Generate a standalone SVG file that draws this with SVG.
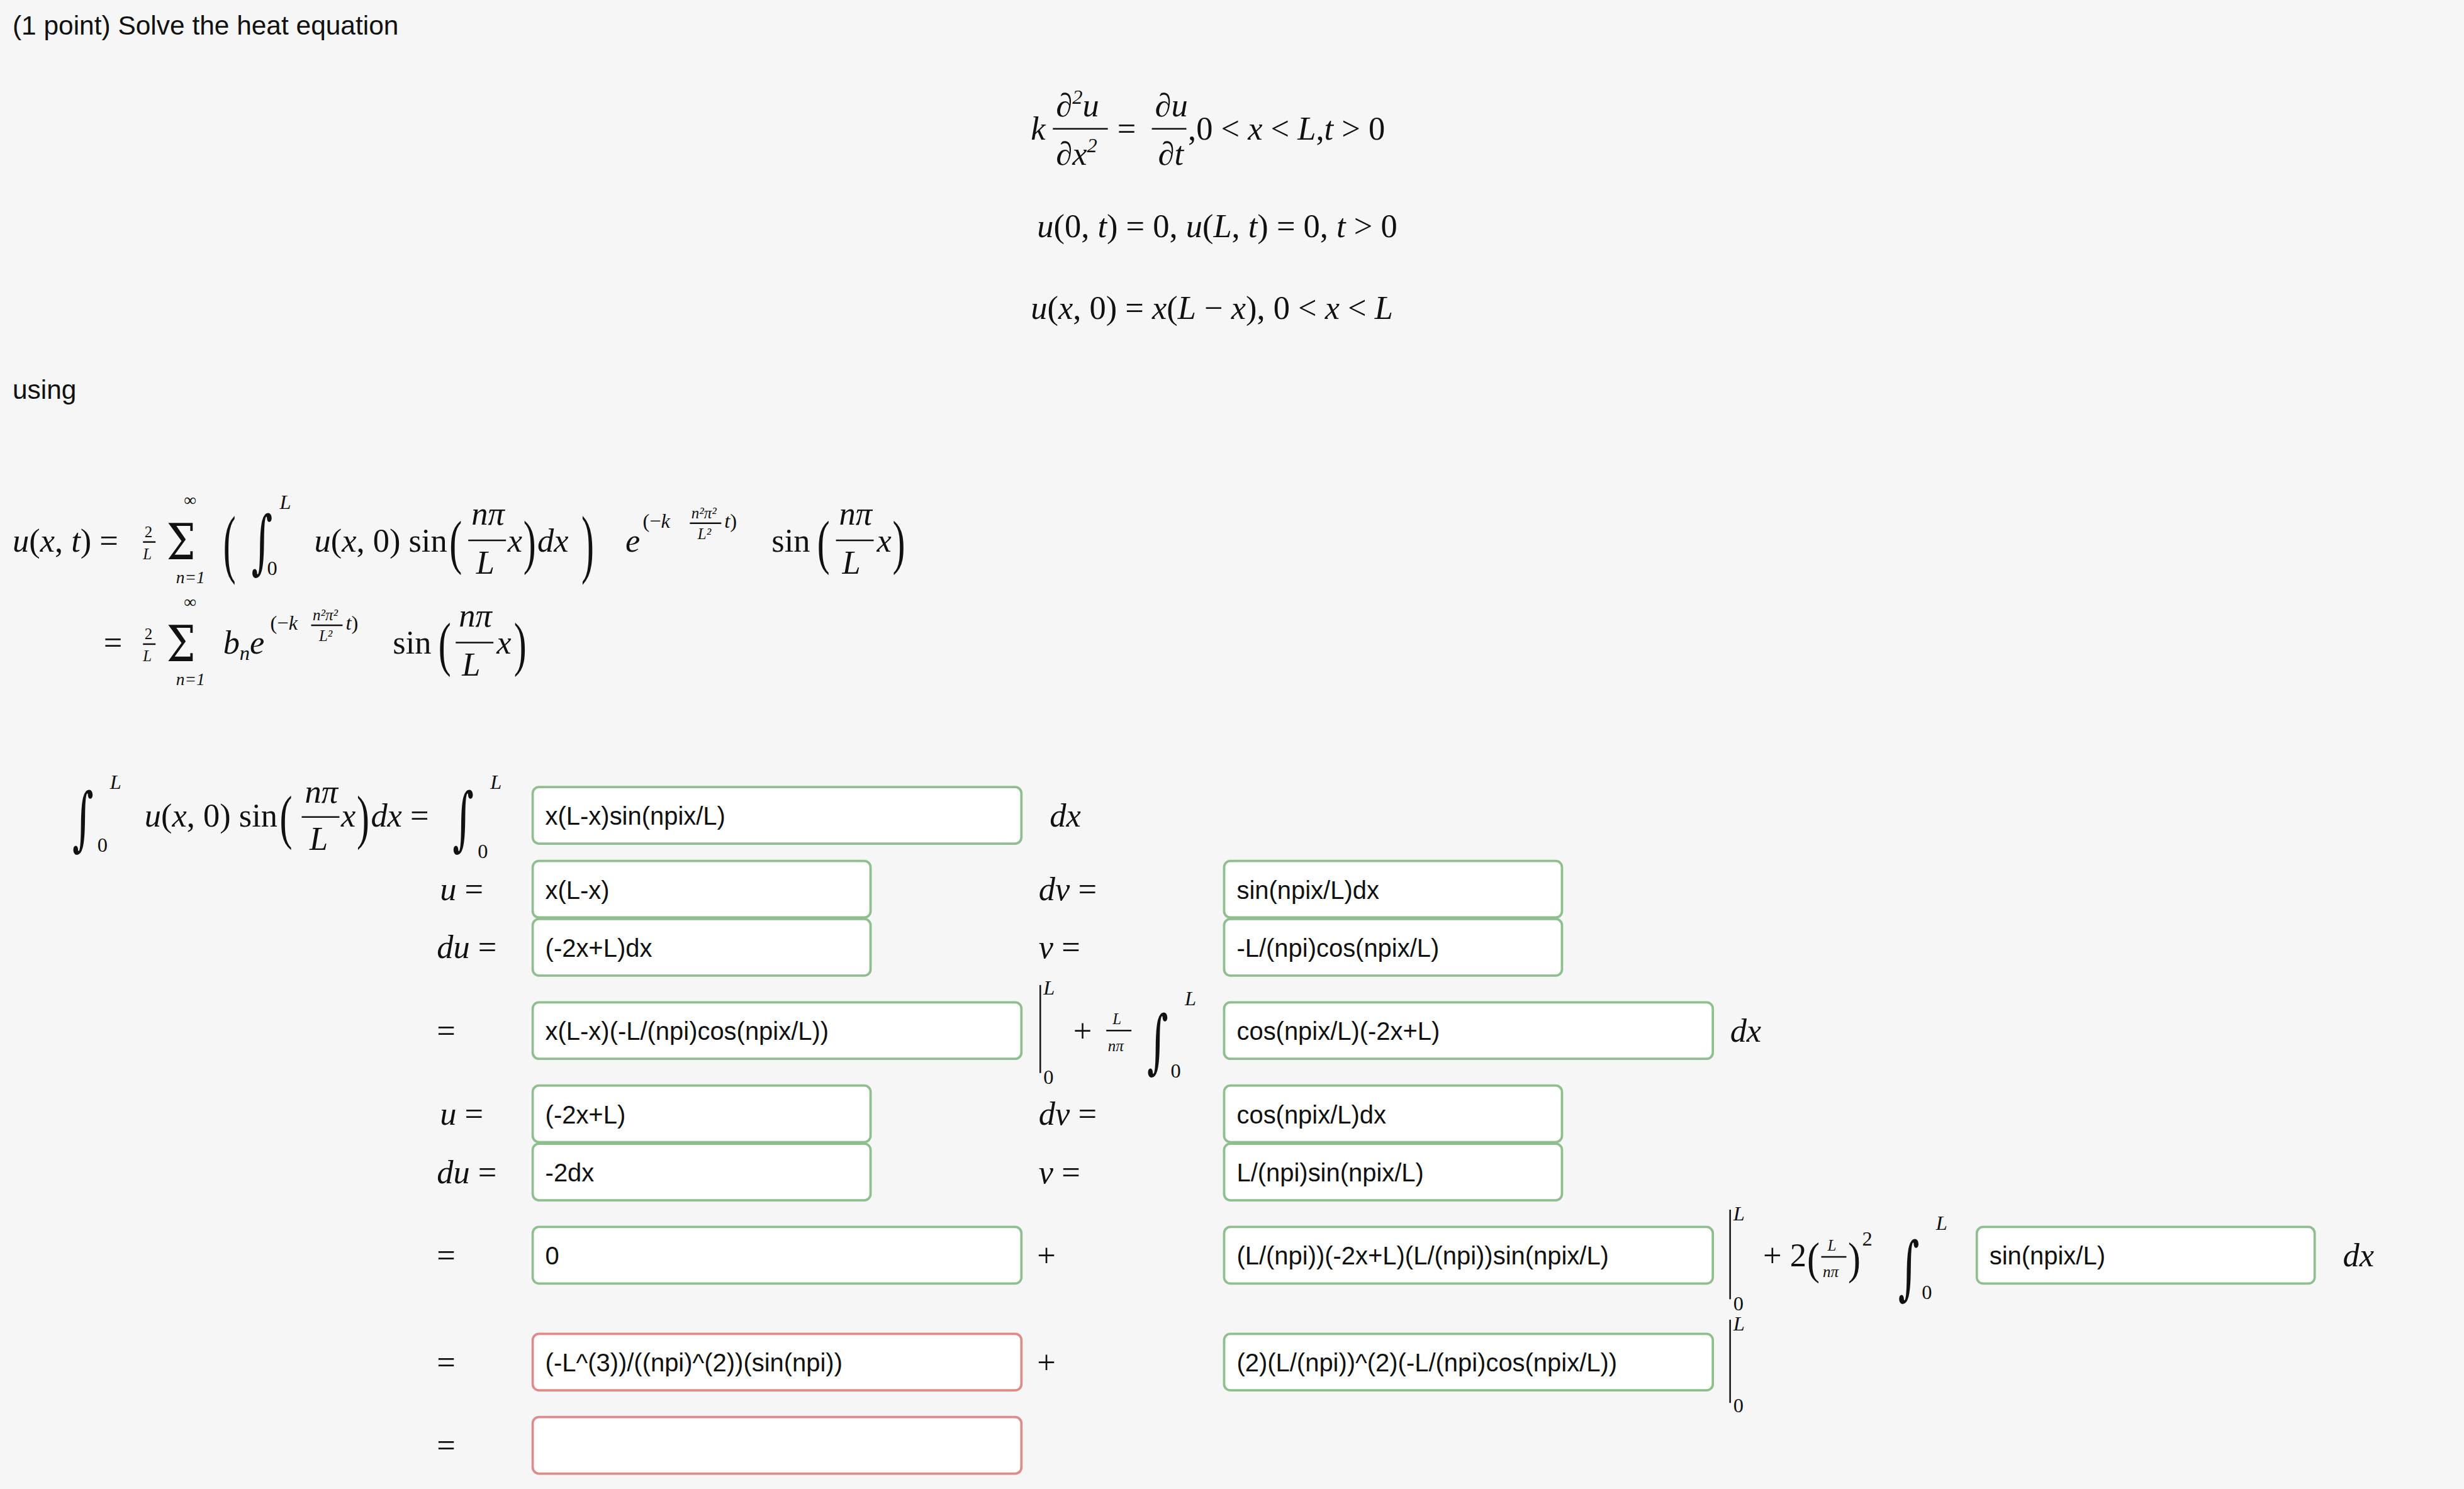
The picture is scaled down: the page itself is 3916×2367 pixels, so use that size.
<svg xmlns="http://www.w3.org/2000/svg" width="3916" height="2367" viewBox="0 0 3916 2367">
<style>
.t{font-family:"Liberation Sans",Arial,sans-serif;font-size:17px;fill:#111}
.m{font-family:"Liberation Serif","Times New Roman",serif;font-size:21px;fill:#111}
.i{font-style:italic}
.s{font-size:13px}
.xs{font-size:10px}
.lim{font-size:11px}
.int{font-family:"DejaVu Serif",serif;font-size:26px;fill:#111}
.sig{font-family:"DejaVu Serif",serif;font-size:26px;fill:#111}
.par{font-family:"Liberation Serif",serif;font-size:24px;fill:#111}
.g{fill:#fff;stroke:#8fbf8f;stroke-width:1.5}
.r{fill:#fff;stroke:#e08a8a;stroke-width:1.5}
.bt{font-family:"Liberation Sans",Arial,sans-serif;font-size:16px;fill:#111}
.ln{stroke:#111;stroke-width:1}
</style>
<rect width="3916" height="2367" fill="#f6f6f6"/>
<g transform="scale(2.4974)">
<g id="header">
<text class="t" x="8" y="22">(1 point) Solve the heat equation</text>
<text class="t" x="8" y="254">using</text>
</g>
<g id="pde">
<text class="m i" x="656" y="89">k</text>
<text class="m i" x="672" y="74">∂<tspan class="s" dy="-8">2</tspan><tspan dy="8">u</tspan></text>
<line class="ln" x1="670" y1="82" x2="705" y2="82"/>
<text class="m i" x="672" y="105">∂x<tspan class="s" dy="-8">2</tspan></text>
<text class="m" x="711" y="89">=</text>
<text class="m i" x="735" y="74">∂u</text>
<line class="ln" x1="733" y1="82" x2="755" y2="82"/>
<text class="m i" x="737" y="105">∂t</text>
<text class="m" x="756" y="89">,0 &lt; <tspan class="i">x</tspan> &lt; <tspan class="i">L</tspan>,<tspan class="i">t</tspan> &gt; 0</text>
<text class="m" x="660" y="151"><tspan class="i">u</tspan>(0, <tspan class="i">t</tspan>) = 0, <tspan class="i">u</tspan>(<tspan class="i">L</tspan>, <tspan class="i">t</tspan>) = 0, <tspan class="i">t</tspan> &gt; 0</text>
<text class="m" x="656" y="203"><tspan class="i">u</tspan>(<tspan class="i">x</tspan>, 0) = <tspan class="i">x</tspan>(<tspan class="i">L</tspan> − <tspan class="i">x</tspan>), 0 &lt; <tspan class="i">x</tspan> &lt; <tspan class="i">L</tspan></text>
</g>
<g id="series">
<text class="m" x="8" y="351"><tspan class="i">u</tspan>(<tspan class="i">x</tspan>, <tspan class="i">t</tspan>) =</text>
<text class="m xs" x="92" y="342">2</text><line class="ln" x1="91" y1="345" x2="99" y2="345"/><text class="m xs i" x="91" y="356">L</text>
<text class="m lim" x="117" y="322">∞</text>
<text class="sig" transform="translate(106,356) scale(1,1.2)">Σ</text>
<text class="m lim i" x="112" y="371">n=1</text>
<text class="par" transform="translate(142,362) scale(1,2)">(</text>
<text class="int i" transform="translate(160,360) scale(1,1.7)">∫</text>
<text class="m s i" x="178" y="324">L</text><text class="m s" x="170" y="366">0</text>
<text class="m" x="200" y="351"><tspan class="i">u</tspan>(<tspan class="i">x</tspan>, 0) sin</text>
<text class="par" transform="translate(286,358) scale(1,1.6)">(</text>
<text class="m i" x="300" y="334">nπ</text><line class="ln" x1="298" y1="344" x2="322" y2="344"/><text class="m i" x="303" y="365">L</text>
<text class="m i" x="323" y="351">x</text>
<text class="par" transform="translate(333,358) scale(1,1.6)">)</text>
<text class="m i" x="342" y="351">dx</text>
<text class="par" transform="translate(370,362) scale(1,2)">)</text>
<text class="m i" x="398" y="351">e</text>
<text class="m s" x="409" y="336">(−<tspan class="i">k</tspan></text>
<text class="m xs i" x="440" y="330">n²π²</text><line class="ln" x1="439" y1="333" x2="459" y2="333"/><text class="m xs i" x="444" y="343">L²</text>
<text class="m s" x="461" y="336"><tspan class="i">t</tspan>)</text>
<text class="m" x="491" y="351">sin</text>
<text class="par" transform="translate(520,358) scale(1,1.6)">(</text>
<text class="m i" x="534" y="334">nπ</text><line class="ln" x1="532" y1="344" x2="556" y2="344"/><text class="m i" x="536" y="365">L</text>
<text class="m i" x="558" y="351">x</text>
<text class="par" transform="translate(568,358) scale(1,1.6)">)</text>
<text class="m" x="66" y="416">=</text>
<text class="m xs" x="92" y="407">2</text><line class="ln" x1="91" y1="410" x2="99" y2="410"/><text class="m xs i" x="91" y="421">L</text>
<text class="m lim" x="117" y="387">∞</text>
<text class="sig" transform="translate(106,421) scale(1,1.2)">Σ</text>
<text class="m lim i" x="112" y="436">n=1</text>
<text class="m i" x="142" y="416">b<tspan class="s" dy="4">n</tspan><tspan dy="-4">e</tspan></text>
<text class="m s" x="172" y="401">(−<tspan class="i">k</tspan></text>
<text class="m xs i" x="199" y="395">n²π²</text><line class="ln" x1="198" y1="398" x2="218" y2="398"/><text class="m xs i" x="203" y="408">L²</text>
<text class="m s" x="220" y="401"><tspan class="i">t</tspan>)</text>
<text class="m" x="250" y="416">sin</text>
<text class="par" transform="translate(279,423) scale(1,1.6)">(</text>
<text class="m i" x="292" y="399">nπ</text><line class="ln" x1="290" y1="409" x2="314" y2="409"/><text class="m i" x="294" y="430">L</text>
<text class="m i" x="316" y="416">x</text>
<text class="par" transform="translate(327,423) scale(1,1.6)">)</text>
</g>
<g id="integral1">
<text class="int i" transform="translate(46,536) scale(1,1.7)">∫</text>
<text class="m s i" x="70" y="502">L</text><text class="m s" x="62" y="542">0</text>
<text class="m" x="92" y="526"><tspan class="i">u</tspan>(<tspan class="i">x</tspan>, 0) sin</text>
<text class="par" transform="translate(178,533) scale(1,1.6)">(</text>
<text class="m i" x="194" y="511">nπ</text><line class="ln" x1="192" y1="520" x2="216" y2="520"/><text class="m i" x="197" y="541">L</text>
<text class="m i" x="217" y="526">x</text>
<text class="par" transform="translate(227,533) scale(1,1.6)">)</text>
<text class="m" x="236" y="526"><tspan class="i">dx</tspan> =</text>
<text class="int i" transform="translate(288,536) scale(1,1.7)">∫</text>
<text class="m s i" x="312" y="502">L</text><text class="m s" x="304" y="546">0</text>
<rect class="g" x="339" y="501" width="311" height="36" rx="4"/>
<text class="bt" x="347" y="525">x(L-x)sin(npix/L)</text>
<text class="m i" x="668" y="526">dx</text>
</g>
<g id="parts1">
<text class="m" x="280" y="573"><tspan class="i">u</tspan> =</text>
<rect class="g" x="339" y="548" width="215" height="36" rx="4"/>
<text class="bt" x="347" y="572">x(L-x)</text>
<text class="m" x="661" y="573"><tspan class="i">dv</tspan> =</text>
<rect class="g" x="779" y="548" width="215" height="36" rx="4"/>
<text class="bt" x="787" y="572">sin(npix/L)dx</text>
<text class="m" x="278" y="610"><tspan class="i">du</tspan> =</text>
<rect class="g" x="339" y="585" width="215" height="36" rx="4"/>
<text class="bt" x="347" y="609">(-2x+L)dx</text>
<text class="m" x="661" y="610"><tspan class="i">v</tspan> =</text>
<rect class="g" x="779" y="585" width="215" height="36" rx="4"/>
<text class="bt" x="787" y="609">-L/(npi)cos(npix/L)</text>
</g>
<g id="step1">
<text class="m" x="278" y="663">=</text>
<rect class="g" x="339" y="638" width="311" height="36" rx="4"/>
<text class="bt" x="347" y="662">x(L-x)(-L/(npi)cos(npix/L))</text>
<line class="ln" x1="662" y1="627" x2="662" y2="683"/>
<text class="m s i" x="664" y="633">L</text><text class="m s" x="664" y="690">0</text>
<text class="m" x="683" y="663">+</text>
<text class="m xs i" x="708" y="652">L</text><line class="ln" x1="704" y1="656" x2="720" y2="656"/><text class="m xs i" x="705" y="669">nπ</text>
<text class="int i" transform="translate(730,678) scale(1,1.7)">∫</text>
<text class="m s i" x="754" y="640">L</text><text class="m s" x="745" y="686">0</text>
<rect class="g" x="779" y="638" width="311" height="36" rx="4"/>
<text class="bt" x="787" y="662">cos(npix/L)(-2x+L)</text>
<text class="m i" x="1101" y="663">dx</text>
</g>
<g id="parts2">
<text class="m" x="280" y="716"><tspan class="i">u</tspan> =</text>
<rect class="g" x="339" y="691" width="215" height="36" rx="4"/>
<text class="bt" x="347" y="715">(-2x+L)</text>
<text class="m" x="661" y="716"><tspan class="i">dv</tspan> =</text>
<rect class="g" x="779" y="691" width="215" height="36" rx="4"/>
<text class="bt" x="787" y="715">cos(npix/L)dx</text>
<text class="m" x="278" y="753"><tspan class="i">du</tspan> =</text>
<rect class="g" x="339" y="728" width="215" height="36" rx="4"/>
<text class="bt" x="347" y="752">-2dx</text>
<text class="m" x="661" y="753"><tspan class="i">v</tspan> =</text>
<rect class="g" x="779" y="728" width="215" height="36" rx="4"/>
<text class="bt" x="787" y="752">L/(npi)sin(npix/L)</text>
</g>
<g id="step2">
<text class="m" x="278" y="806">=</text>
<rect class="g" x="339" y="781" width="311" height="36" rx="4"/>
<text class="bt" x="347" y="805">0</text>
<text class="m" x="660" y="806">+</text>
<rect class="g" x="779" y="781" width="311" height="36" rx="4"/>
<text class="bt" x="787" y="805">(L/(npi))(-2x+L)(L/(npi))sin(npix/L)</text>
<line class="ln" x1="1101" y1="770" x2="1101" y2="827"/>
<text class="m s i" x="1103" y="777">L</text><text class="m s" x="1103" y="834">0</text>
<text class="m" x="1122" y="806">+ 2</text>
<text class="par" transform="translate(1150,811) scale(1,1.2)">(</text>
<text class="m xs i" x="1163" y="796">L</text><line class="ln" x1="1159" y1="800" x2="1175" y2="800"/><text class="m xs i" x="1160" y="813">nπ</text>
<text class="par" transform="translate(1176,811) scale(1,1.2)">)</text><text class="m s" x="1185" y="793">2</text>
<text class="int i" transform="translate(1208,822) scale(1,1.7)">∫</text>
<text class="m s i" x="1232" y="783">L</text><text class="m s" x="1223" y="827">0</text>
<rect class="g" x="1258" y="781" width="215" height="36" rx="4"/>
<text class="bt" x="1266" y="805">sin(npix/L)</text>
<text class="m i" x="1491" y="806">dx</text>
</g>
<g id="step3">
<text class="m" x="278" y="874">=</text>
<rect class="r" x="339" y="849" width="311" height="36" rx="4"/>
<text class="bt" x="347" y="873">(-L^(3))/((npi)^(2))(sin(npi))</text>
<text class="m" x="660" y="874">+</text>
<rect class="g" x="779" y="849" width="311" height="36" rx="4"/>
<text class="bt" x="787" y="873">(2)(L/(npi))^(2)(-L/(npi)cos(npix/L))</text>
<line class="ln" x1="1101" y1="840" x2="1101" y2="893"/>
<text class="m s i" x="1103" y="847">L</text><text class="m s" x="1103" y="899">0</text>
</g>
<g id="step4">
<text class="m" x="278" y="927">=</text>
<rect class="r" x="339" y="902" width="311" height="36" rx="4"/>
</g>
</g>
</svg>
